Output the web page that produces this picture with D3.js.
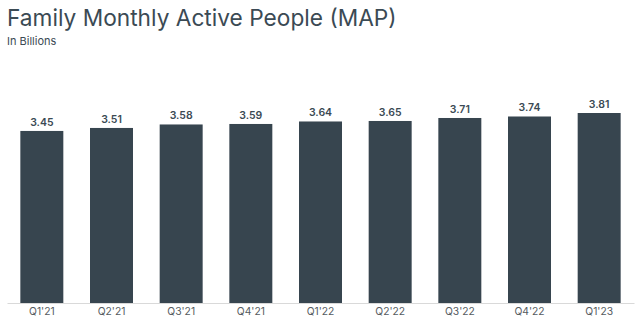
<!DOCTYPE html>
<html><head><meta charset="utf-8">
<script src="https://cdn.jsdelivr.net/npm/d3@7"></script>
<style>body{margin:0;background:#fff}svg{display:block}</style>
</head><body>
<svg id="c" width="640" height="327"></svg>
<script>
const categories = ["Q1'21","Q2'21","Q3'21","Q4'21","Q1'22","Q2'22","Q3'22","Q4'22","Q1'23"];
const values = [3.45,3.51,3.58,3.59,3.64,3.65,3.71,3.74,3.81];
const title = "Family Monthly Active People (MAP)";
const subtitle = "In Billions";

const svg = d3.select("#c");
const font = "Inter, 'Noto Sans', sans-serif";
const x = d3.scaleBand().domain(categories).range([7,634]).paddingInner(0.383).paddingOuter(0.1915);
const y = d3.scaleLinear().domain([0,3.81]).range([303,113]);

svg.append("text").attr("x",7).attr("y",26).attr("font-family",font).attr("font-size",22.7)
  .attr("fill","#3b4a54").text(title);
svg.append("text").attr("x",7).attr("y",45).attr("font-family",font).attr("font-size",11)
  .attr("fill","#3b4a54").text(subtitle);

svg.selectAll("rect.bar").data(values).join("rect").attr("class","bar")
  .attr("x",(d,i)=>x(categories[i])).attr("width",x.bandwidth())
  .attr("y",d=>y(d)).attr("height",d=>y(0)-y(d)).attr("fill","#37454f");

svg.selectAll("text.val").data(values).join("text").attr("class","val")
  .attr("x",(d,i)=>x(categories[i])+x.bandwidth()/2).attr("y",d=>y(d)-5)
  .attr("text-anchor","middle").attr("font-family",font).attr("font-size",10.5).attr("font-weight",600)
  .attr("fill","#3b4a54").text(d=>d.toFixed(2));

const ax = svg.append("g").attr("transform","translate(0,303)")
  .call(d3.axisBottom(x).tickSize(0).tickPadding(5));
ax.select(".domain").attr("stroke","#d9d9d9").attr("stroke-width",1.2);
ax.selectAll("text").attr("font-family",font).attr("font-size",10.3).attr("fill","#555b60");
</script>
</body></html>
